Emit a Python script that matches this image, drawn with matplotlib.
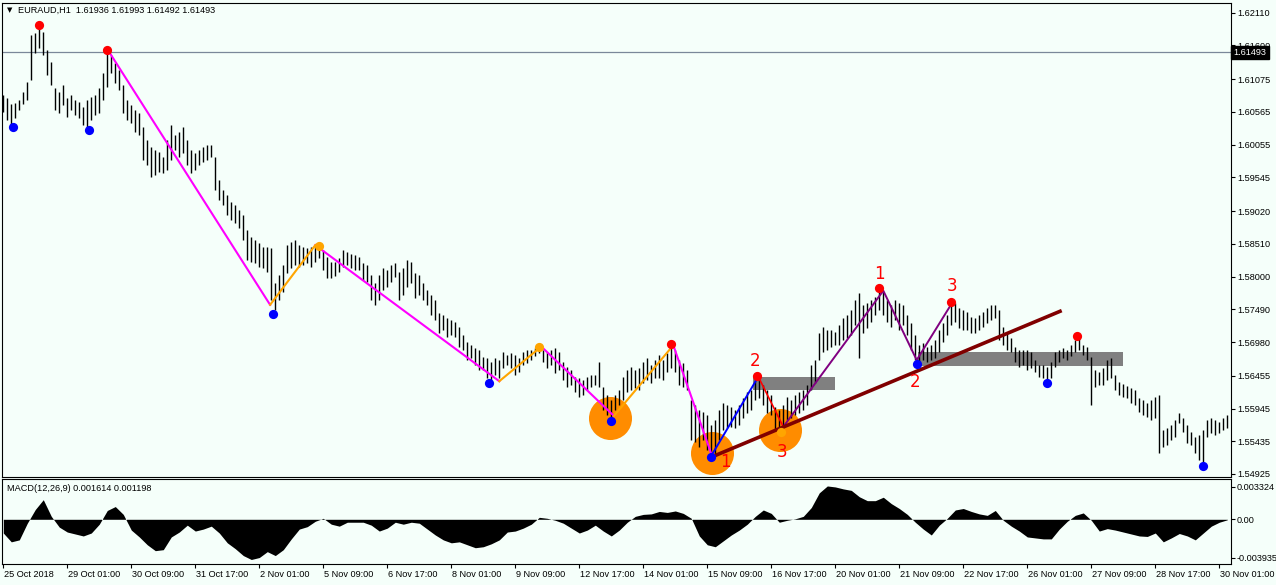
import numpy as np
import matplotlib
matplotlib.use("Agg")
import matplotlib.pyplot as plt
from matplotlib.patches import Rectangle
from matplotlib.transforms import ScaledTranslation, blended_transform_factory

plt.rcParams['font.family'] = ['Liberation Sans', 'DejaVu Sans']

# ---------------- data ----------------
# H1 bars (every 2nd hour shown), highs and lows
high = [1.6083, 1.6078, 1.6069, 1.6070, 1.6075, 1.6088, 1.6103, 1.6176, 1.6179, 1.6189,
        1.6181, 1.6153, 1.6134, 1.6094, 1.6088, 1.6098, 1.6078, 1.6083, 1.6075, 1.6072,
        1.6064, 1.6075, 1.6080, 1.6083, 1.6094, 1.6117, 1.6150, 1.6145, 1.6133, 1.6122,
        1.6098, 1.6075, 1.6067, 1.6060, 1.6055, 1.6033, 1.6013, 1.6002, 1.5997, 1.5994,
        1.5986, 1.6013, 1.6036, 1.6021, 1.6025, 1.6033, 1.6013, 1.5997, 1.5993, 1.5997,
        1.6002, 1.6005, 1.6005, 1.5986, 1.5950, 1.5935, 1.5927, 1.5916, 1.5912, 1.5904,
        1.5896, 1.5873, 1.5862, 1.5857, 1.5852, 1.5846, 1.5846, 1.5845, 1.5790, 1.5803,
        1.5818, 1.5849, 1.5854, 1.5857, 1.5849, 1.5846, 1.5845, 1.5846, 1.5849, 1.5851,
        1.5841, 1.5831, 1.5823, 1.5823, 1.5829, 1.5841, 1.5838, 1.5835, 1.5834, 1.5831,
        1.5821, 1.5818, 1.5803, 1.5790, 1.5803, 1.5813, 1.5810, 1.5818, 1.5821, 1.5807,
        1.5813, 1.5826, 1.5823, 1.5806, 1.5803, 1.5790, 1.5779, 1.5771, 1.5764, 1.5743,
        1.5740, 1.5736, 1.5732, 1.5729, 1.5721, 1.5709, 1.5698, 1.5693, 1.5689, 1.5686,
        1.5675, 1.5673, 1.5667, 1.5673, 1.5670, 1.5683, 1.5678, 1.5681, 1.5678, 1.5673,
        1.5683, 1.5686, 1.5686, 1.5689, 1.5692, 1.5686, 1.5683, 1.5686, 1.5689, 1.5683,
        1.5667, 1.5659, 1.5655, 1.5644, 1.5642, 1.5639, 1.5644, 1.5647, 1.5647, 1.5667,
        1.5628, 1.5616, 1.5608, 1.5616, 1.5623, 1.5644, 1.5655, 1.5659, 1.5655, 1.5658,
        1.5667, 1.5673, 1.5662, 1.5670, 1.5678, 1.5670, 1.5681, 1.5692, 1.5686, 1.5670,
        1.5665, 1.5655, 1.5608, 1.5600, 1.5592, 1.5589, 1.5584, 1.5569, 1.5577, 1.5592,
        1.5603, 1.5600, 1.5597, 1.5592, 1.5600, 1.5611, 1.5620, 1.5623, 1.5642, 1.5644,
        1.5631, 1.5623, 1.5615, 1.5597, 1.5592, 1.5600, 1.5612, 1.5608, 1.5615, 1.5620,
        1.5623, 1.5631, 1.5662, 1.5670, 1.5712, 1.5721, 1.5717, 1.5717, 1.5714, 1.5724,
        1.5736, 1.5740, 1.5748, 1.5764, 1.5775, 1.5756, 1.5759, 1.5764, 1.5768, 1.5779,
        1.5776, 1.5764, 1.5756, 1.5764, 1.5759, 1.5756, 1.5740, 1.5728, 1.5709, 1.5693,
        1.5697, 1.5690, 1.5693, 1.5701, 1.5717, 1.5728, 1.5740, 1.5756, 1.5759, 1.5751,
        1.5748, 1.5745, 1.5737, 1.5736, 1.5740, 1.5745, 1.5751, 1.5756, 1.5756, 1.5748,
        1.5721, 1.5714, 1.5704, 1.5690, 1.5686, 1.5686, 1.5686, 1.5683, 1.5670, 1.5662,
        1.5662, 1.5659, 1.5667, 1.5683, 1.5686, 1.5689, 1.5686, 1.5693, 1.5701, 1.5704,
        1.5693, 1.5690, 1.5675, 1.5655, 1.5651, 1.5658, 1.5670, 1.5673, 1.5647, 1.5636,
        1.5633, 1.5629, 1.5626, 1.5623, 1.5611, 1.5608, 1.5603, 1.5608, 1.5612, 1.5615,
        1.5561, 1.5564, 1.5569, 1.5577, 1.5587, 1.5580, 1.5569, 1.5558, 1.5550, 1.5553,
        1.5561, 1.5577, 1.5580, 1.5577, 1.5573, 1.5580, 1.5584]
low = [1.6056, 1.6044, 1.6036, 1.6047, 1.6060, 1.6069, 1.6075, 1.6106, 1.6148, 1.6156,
       1.6145, 1.6114, 1.6098, 1.6060, 1.6055, 1.6067, 1.6049, 1.6060, 1.6052, 1.6047,
       1.6036, 1.6031, 1.6044, 1.6052, 1.6055, 1.6075, 1.6095, 1.6117, 1.6102, 1.6091,
       1.6055, 1.6044, 1.6039, 1.6025, 1.6021, 1.5982, 1.5974, 1.5955, 1.5958, 1.5963,
       1.5961, 1.5966, 1.5982, 1.5997, 1.5986, 1.5993, 1.5974, 1.5961, 1.5966, 1.5974,
       1.5979, 1.5982, 1.5986, 1.5935, 1.5919, 1.5912, 1.5896, 1.5888, 1.5883, 1.5876,
       1.5857, 1.5826, 1.5823, 1.5821, 1.5815, 1.5813, 1.5807, 1.5764, 1.5748, 1.5764,
       1.5776, 1.5806, 1.5813, 1.5818, 1.5815, 1.5818, 1.5821, 1.5815, 1.5823, 1.5829,
       1.5810, 1.5798, 1.5798, 1.5801, 1.5807, 1.5815, 1.5818, 1.5813, 1.5810, 1.5810,
       1.5795, 1.5792, 1.5764, 1.5756, 1.5764, 1.5779, 1.5784, 1.5792, 1.5800, 1.5764,
       1.5771, 1.5784, 1.5790, 1.5767, 1.5771, 1.5764, 1.5756, 1.5740, 1.5732, 1.5712,
       1.5717, 1.5706, 1.5709, 1.5706, 1.5690, 1.5686, 1.5670, 1.5673, 1.5662, 1.5655,
       1.5655, 1.5642, 1.5639, 1.5647, 1.5642, 1.5658, 1.5662, 1.5658, 1.5647, 1.5651,
       1.5662, 1.5665, 1.5670, 1.5676, 1.5681, 1.5667, 1.5658, 1.5662, 1.5650, 1.5655,
       1.5639, 1.5628, 1.5631, 1.5620, 1.5612, 1.5615, 1.5623, 1.5628, 1.5631, 1.5628,
       1.5592, 1.5584, 1.5577, 1.5592, 1.5600, 1.5608, 1.5620, 1.5623, 1.5626, 1.5623,
       1.5634, 1.5639, 1.5634, 1.5642, 1.5642, 1.5639, 1.5651, 1.5658, 1.5651, 1.5631,
       1.5628, 1.5623, 1.5546, 1.5542, 1.5535, 1.5546, 1.5530, 1.5517, 1.5522, 1.5546,
       1.5561, 1.5564, 1.5566, 1.5564, 1.5569, 1.5580, 1.5587, 1.5592, 1.5608, 1.5611,
       1.5600, 1.5587, 1.5584, 1.5561, 1.5561, 1.5564, 1.5577, 1.5580, 1.5584, 1.5587,
       1.5592, 1.5600, 1.5623, 1.5634, 1.5670, 1.5683, 1.5686, 1.5690, 1.5693, 1.5693,
       1.5701, 1.5704, 1.5709, 1.5725, 1.5673, 1.5712, 1.5720, 1.5729, 1.5740, 1.5748,
       1.5740, 1.5729, 1.5721, 1.5732, 1.5717, 1.5725, 1.5709, 1.5686, 1.5670, 1.5659,
       1.5670, 1.5667, 1.5670, 1.5673, 1.5683, 1.5698, 1.5709, 1.5725, 1.5729, 1.5720,
       1.5717, 1.5717, 1.5712, 1.5712, 1.5717, 1.5721, 1.5727, 1.5732, 1.5736, 1.5701,
       1.5693, 1.5686, 1.5683, 1.5667, 1.5659, 1.5662, 1.5655, 1.5658, 1.5651, 1.5644,
       1.5642, 1.5636, 1.5642, 1.5659, 1.5667, 1.5673, 1.5670, 1.5676, 1.5683, 1.5686,
       1.5678, 1.5670, 1.5600, 1.5628, 1.5631, 1.5631, 1.5639, 1.5642, 1.5623, 1.5615,
       1.5612, 1.5611, 1.5603, 1.5600, 1.5589, 1.5584, 1.5581, 1.5577, 1.5580, 1.5525,
       1.5535, 1.5538, 1.5546, 1.5550, 1.5572, 1.5558, 1.5541, 1.5538, 1.5525, 1.5514,
       1.5507, 1.5550, 1.5556, 1.5553, 1.5556, 1.5561, 1.5564]
bar_step_hours = 2

# MACD(12,26,9) histogram (every 4th hour)
macd = [-0.00140, -0.00230, -0.00210, -0.00040, 0.00100, 0.00200, 0.00030, -0.00080, -0.00130, -0.00150,
        -0.00170, -0.00140, -0.00050, 0.00090, 0.00130, 0.00050, -0.00110, -0.00180, -0.00260, -0.00320,
        -0.00310, -0.00180, -0.00130, -0.00060, -0.00120, -0.00100, -0.00070, -0.00140, -0.00240, -0.00300,
        -0.00370, -0.00410, -0.00390, -0.00330, -0.00370, -0.00310, -0.00200, -0.00100, -0.00075, -0.00020,
        0.00010, -0.00050, -0.00070, -0.00030, -0.00030, -0.00030, -0.00060, -0.00120, -0.00090, -0.00030,
        -0.00050, -0.00030, -0.00040, -0.00100, -0.00160, -0.00210, -0.00240, -0.00230, -0.00260, -0.00290,
        -0.00280, -0.00250, -0.00210, -0.00130, -0.00120, -0.00090, -0.00050, 0.00020, 0.00010, -0.00010,
        -0.00040, -0.00090, -0.00140, -0.00110, -0.00060, -0.00120, -0.00170, -0.00110, -0.00030, 0.00030,
        0.00050, 0.00055, 0.00080, 0.00070, 0.00085, 0.00060, 0.00010, -0.00170, -0.00260, -0.00280,
        -0.00220, -0.00160, -0.00110, -0.00050, 0.00030, 0.00095, 0.00060, -0.00030, -0.00010, 0.00005,
        0.00030, 0.00120, 0.00270, 0.00340, 0.00330, 0.00310, 0.00295, 0.00230, 0.00190, 0.00190,
        0.00225, 0.00160, 0.00110, 0.00050, -0.00030, -0.00100, -0.00160, -0.00060, 0.00010, 0.00095,
        0.00110, 0.00080, 0.00055, 0.00040, 0.00090, -0.00010, -0.00070, -0.00120, -0.00180, -0.00190,
        -0.00200, -0.00200, -0.00100, -0.00020, 0.00040, 0.00065, -0.00010, -0.00120, -0.00095, -0.00110,
        -0.00130, -0.00150, -0.00170, -0.00175, -0.00140, -0.00230, -0.00190, -0.00145, -0.00170, -0.00210,
        -0.00140, -0.00070, -0.00030, -0.00005]
macd_step_hours = 4

date_labels = ["25 Oct 2018", "29 Oct 01:00", "30 Oct 09:00", "31 Oct 17:00", "2 Nov 01:00",
               "5 Nov 09:00", "6 Nov 17:00", "8 Nov 01:00", "9 Nov 09:00", "12 Nov 17:00",
               "14 Nov 01:00", "15 Nov 09:00", "16 Nov 17:00", "20 Nov 01:00", "21 Nov 09:00",
               "22 Nov 17:00", "26 Nov 01:00", "27 Nov 09:00", "28 Nov 17:00", "30 Nov 01:00"]
date_step_hours = 32

price_ticks = [1.62110, 1.61600, 1.61075, 1.60565, 1.60055, 1.59545, 1.59020, 1.58510,
               1.58000, 1.57490, 1.56980, 1.56455, 1.55945, 1.55435, 1.54925]
macd_ticks = [0.003324, 0.0, -0.003935]
macd_tick_labels = ["0.003324", "0.00", "-0.003935"]
bid_price = 1.61493

# fractal points (hour index, price)
red_hours = [18, 52, 334, 377, 438, 474, 537]
red_prices = [1.6192, 1.6153, 1.5695, 1.5645, 1.5782, 1.5760, 1.5707]
blue_hours = [4.7, 43, 135, 243, 304, 354, 457, 522, 600]
blue_prices = [1.6033, 1.6028, 1.5742, 1.5634, 1.5575, 1.5519, 1.5664, 1.5634, 1.5505]
orange_hours = [158, 268, 389]
orange_prices = [1.5848, 1.5690, 1.5558]

# zigzag legs
magenta_legs = [([52.9, 133.4], [1.6150, 1.5756]), ([156, 248], [1.5849, 1.5637]),
                ([269, 305.3], [1.5691, 1.5583]), ([335, 354.2], [1.5693, 1.5522])]
orange_legs = [([133.4, 156], [1.5756, 1.5849]), ([248, 269], [1.5637, 1.5691]),
               ([305.3, 335], [1.5583, 1.5693])]
blue_leg = ([354.2, 377.5], [1.5522, 1.5644])
red_leg = ([377.5, 390], [1.5644, 1.5566])
purple_hours = [390, 440, 456.7, 474.2]
purple_prices = [1.5566, 1.5778, 1.5670, 1.5758]
trend_hours = [354.2, 529.2]
trend_prices = [1.5519, 1.5747]

zones = [(375, 416, 1.5623, 1.5644), (457.4, 560, 1.5660, 1.5683)]
circle_hours = [303.4, 354.4, 388.4]
circle_prices = [1.5580, 1.5525, 1.5561]

wave_labels = ["2", "3", "1", "1", "3", "2"]
wave_hours = [376, 389.4, 360.9, 437.9, 474.4, 455.9]
wave_prices = [1.5669, 1.5527, 1.5511, 1.5804, 1.5785, 1.5636]

# ---------------- figure ----------------
BG = '#F5FFFA'
FS = 6.6
W, H = 1276, 585
fig = plt.figure(figsize=(W / 100, H / 100), dpi=100, facecolor=BG)


def frac(x0, y0, x1, y1):
    return [x0 / W, 1 - y1 / H, (x1 - x0) / W, (y1 - y0) / H]


ax = fig.add_axes(frac(2, 2.5, 1230.7, 476.5), facecolor=BG)
ax2 = fig.add_axes(frac(2, 479, 1230.7, 564), facecolor=BG)
for a in (ax, ax2):
    a.set_xlim(-0.65, 613.7)
    for s in a.spines.values():
        s.set_color('black')
        s.set_linewidth(0.8)

ax.set_ylim(1.54886, 1.62269)
ax2.set_ylim(-0.00456, 0.00411)

bar_hours = np.arange(len(high)) * bar_step_hours
ax.vlines(bar_hours, low, high, colors='black', linewidth=1.0, zorder=3)

for (h0, h1, p0, p1) in zones:
    ax.add_patch(Rectangle((h0, p0), h1 - h0, p1 - p0, facecolor='#808080',
                           edgecolor='none', zorder=1))
ax.scatter(circle_hours, circle_prices, s=960, color='#FF8C00', zorder=2, linewidths=0)
ax.axhline(bid_price, color='#7A8899', linewidth=0.9, zorder=2.5)

for hs, ps in magenta_legs:
    ax.plot(hs, ps, color='#FF00FF', linewidth=1.5, zorder=4)
for hs, ps in orange_legs:
    ax.plot(hs, ps, color='#FFA500', linewidth=1.5, zorder=4)
ax.plot(*blue_leg, color='#0000FF', linewidth=1.4, zorder=4)
ax.plot(*red_leg, color='#FF0000', linewidth=1.2, zorder=4)
ax.plot(purple_hours, purple_prices, color='#800080', linewidth=1.4, zorder=4)
ax.plot(trend_hours, trend_prices, color='#800000', linewidth=2.6, zorder=5,
        solid_capstyle='butt')

ax.scatter(red_hours, red_prices, s=44, color='#FF0000', zorder=6, linewidths=0)
ax.scatter(blue_hours, blue_prices, s=44, color='#0000FF', zorder=6, linewidths=0)
ax.scatter(orange_hours, orange_prices, s=44, color='#FFA500', zorder=6, linewidths=0)

for t, h, p in zip(wave_labels, wave_hours, wave_prices):
    ax.text(h, p, t, color='#FF0000', fontsize=12, ha='center', va='center',
            family='DejaVu Sans', zorder=7)

# price axis
ax.yaxis.tick_right()
ax.set_yticks(price_ticks)
ax.set_yticklabels([f"{v:.5f}" for v in price_ticks])
ax.tick_params(axis='y', which='both', right=True, left=False, labelright=True,
               labelleft=False, length=3, width=0.8, pad=1.5, labelsize=FS, colors='black')
ax.tick_params(axis='x', bottom=False, labelbottom=False)
trans = blended_transform_factory(ax.transAxes, ax.transData)
ax.text(1.0, bid_price, "1.61493", transform=trans + ScaledTranslation(3 / 100, 0, fig.dpi_scale_trans),
        ha='left', va='center', color='white', fontsize=FS, zorder=10, clip_on=False,
        bbox=dict(boxstyle='square,pad=0.25', facecolor='black', edgecolor='black'))

# MACD panel (histogram drawn as a filled profile)
macd_hours = np.arange(len(macd)) * macd_step_hours
ax2.fill_between(macd_hours, 0, macd, color='black', linewidth=0)
ax2.yaxis.tick_right()
ax2.set_yticks(macd_ticks)
ax2.set_yticklabels(macd_tick_labels)
ax2.tick_params(axis='y', which='both', right=True, left=False, labelright=True,
                labelleft=False, length=3, width=0.8, pad=1.0, labelsize=FS)
date_hours = np.arange(len(date_labels)) * date_step_hours
ax2.set_xticks(date_hours)
ax2.set_xticklabels(date_labels)
ax2.tick_params(axis='x', length=3, width=0.8, pad=1.5, labelsize=FS, direction='out')
for lab in ax2.get_xticklabels():
    lab.set_horizontalalignment('left')
    lab.set_transform(lab.get_transform() + ScaledTranslation(1 / 100, 0, fig.dpi_scale_trans))

fig.text(7 / W, 1 - 488.5 / H, "MACD(12,26,9) 0.001614 0.001198", fontsize=FS,
         va='center', ha='left')
fig.text(18 / W, 1 - 10.8 / H, "EURAUD,H1  1.61936 1.61993 1.61492 1.61493", fontsize=FS,
         va='center', ha='left')
fig.text(9.5 / W, 1 - 10.5 / H, "\u25BC", fontsize=5, va='center', ha='center',
         family='DejaVu Sans')

fig.savefig("out.png", dpi=100, facecolor=BG)
